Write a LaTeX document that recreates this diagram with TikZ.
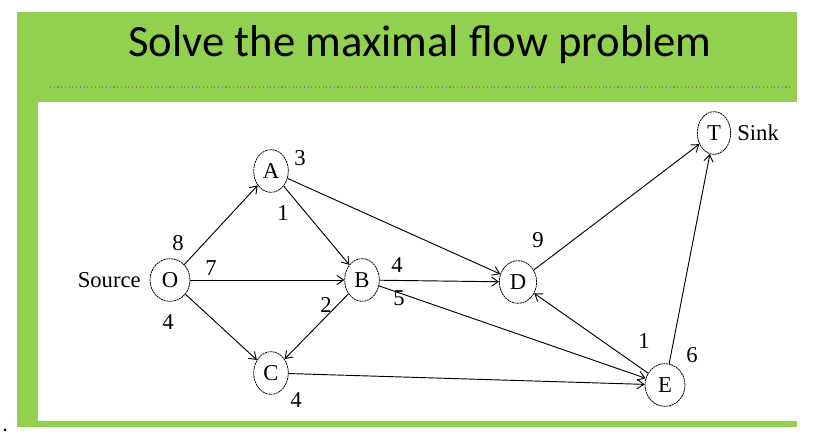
\documentclass[tikz,border=0pt]{standalone}
\usepackage{fontspec}
\setmainfont{Liberation Serif}
\newfontfamily\titlefont{Carlito}
\usetikzlibrary{arrows.meta,shapes.geometric}
\definecolor{bandgreen}{RGB}{146,208,80}
\begin{document}
\begin{tikzpicture}[x=0.75pt,y=-0.75pt,
  nd/.style={draw,ellipse,inner sep=0pt,minimum width=#1,minimum height=32,line width=0.6pt,dashed,dash pattern=on 1.5pt off 0.5pt,font=\fontsize{17}{17}\selectfont},
  nd/.default=26,
  ed/.style={line width=0.7pt,-{Straight Barb[length=5pt,width=7pt]}},
  lb/.style={font=\fontsize{17}{17}\selectfont,inner sep=0pt}]
\useasboundingbox (0,0) rectangle (821,441);
\fill[white] (0,0) rectangle (821,441);
\fill[bandgreen] (17,12) rectangle (797,427);
\fill[white] (38,102) rectangle (797,421);
\draw[gray,dotted,line width=0.8pt] (50,87) -- (790,87);
\fill (5,430) circle (1.5);
\node[font=\titlefont\fontsize{33.5}{33.5}\selectfont] (title) at (420,45) {Solve the maximal flow problem};
\node[nd=30] (O) at (170,280) {O};
\node[nd] (A) at (271,171) {A};
\node[nd] (B) at (362,280) {B};
\node[nd] (C) at (271,373) {C};
\node[nd=28] (D) at (518,282) {D};
\node[nd=30] (E) at (665,385) {E};
\node[nd=25] (T) at (714,133) {T};
\node[lb,anchor=east] (src) at (141,280) {Source};
\node[lb,anchor=west] (snk) at (737,133) {Sink};
\draw[ed] (O) -- (A);
\draw[ed] (O) -- (B);
\draw[ed] (O) -- (C);
\draw[ed] (A) -- (B);
\draw[ed] (A) -- (D);
\draw[ed] (B) -- (D);
\draw[ed] (B) -- (E);
\draw[ed] (B) -- (C);
\draw[ed] (C) -- (E);
\draw[ed] (E) -- (D);
\draw[ed] (D) -- (T);
\draw[ed] (E) -- (T);
\node[lb] (l1) at (300,158) {3};
\node[lb] (l2) at (283,213) {1};
\node[lb] (l3) at (178,243) {8};
\node[lb] (l4) at (211,268) {7};
\node[lb] (l5) at (168,322) {4};
\node[lb] (l6) at (397,265) {4};
\node[lb] (l7) at (399,298) {5};
\node[lb] (l8) at (326,305) {2};
\node[lb] (l9) at (296,400) {4};
\node[lb] (l10) at (538,240) {9};
\node[lb] (l11) at (644,341) {1};
\node[lb] (l12) at (692,355) {6};
\end{tikzpicture}
\end{document}
